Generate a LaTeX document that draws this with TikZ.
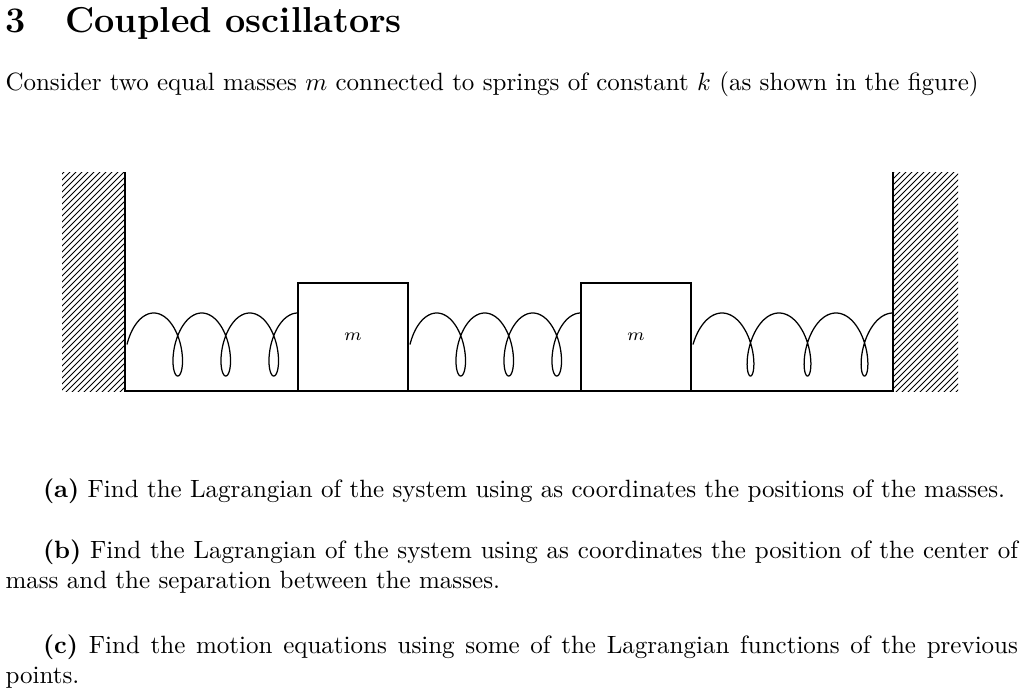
\documentclass[tikz,border=0pt]{standalone}
\begin{document}
\begin{tikzpicture}[x=0.4pt,y=-0.4pt,
  para/.style={anchor=base west,text width=405pt,align=justify,inner sep=0pt,font=\normalsize},
  mass/.style={draw,line width=0.7pt,minimum width=44pt,minimum height=43.2pt,inner sep=0pt,font=\scriptsize},
  hatch/.style={line width=0.4pt},
  spring/.style={line width=0.5pt}]
\useasboundingbox (0,0) rectangle (1020,693);
\node[anchor=base west,inner sep=0pt,font=\Large\bfseries] (title) at (5,32) {3\hspace{1.1em}Coupled oscillators};
\node[para] (intro) at (5,90) {Consider two equal masses $m$ connected to springs of constant $k$ (as shown in the figure)};
% walls hatch
\begin{scope}
\clip (62,172) rectangle (125,391);
\foreach \c in {160,166,...,560} \draw[hatch] (40,\c) -- (140,\c-100);
\end{scope}
\begin{scope}
\clip (893,172) rectangle (958,391);
\foreach \c in {160,166,...,560} \draw[hatch] (870,\c) -- (970,\c-100);
\end{scope}
\draw[line width=0.8pt] (125,172) -- (125,391) -- (893,391) -- (893,172);
\node[mass] (m1) at (353,337) {$m$};
\node[mass] (m2) at (636,337) {$m$};
% springs: start s, pitch d
\foreach \s/\d in {127/48, 410/48, 693/57}{
  \draw[spring,domain=-90:1080,samples=300,smooth,variable=\t]
    plot ({\s+\d/4+14.75+\t/360*\d+14.75*sin(\t)},{344.5-31.5*cos(\t)});
}
\node[para] (pa) at (5,497) {\hspace*{15pt}\textbf{(a)} Find the Lagrangian of the system using as coordinates the positions of the masses.};
\node[para] (pb) at (5,558) {\hspace*{15pt}\textbf{(b)} Find the Lagrangian of the system using as coordinates the position of the center of mass and the separation between the masses.};
\node[para] (pc) at (5,653) {\hspace*{15pt}\textbf{(c)} Find the motion equations using some of the Lagrangian functions of the previous points.};
\end{tikzpicture}
\end{document}
